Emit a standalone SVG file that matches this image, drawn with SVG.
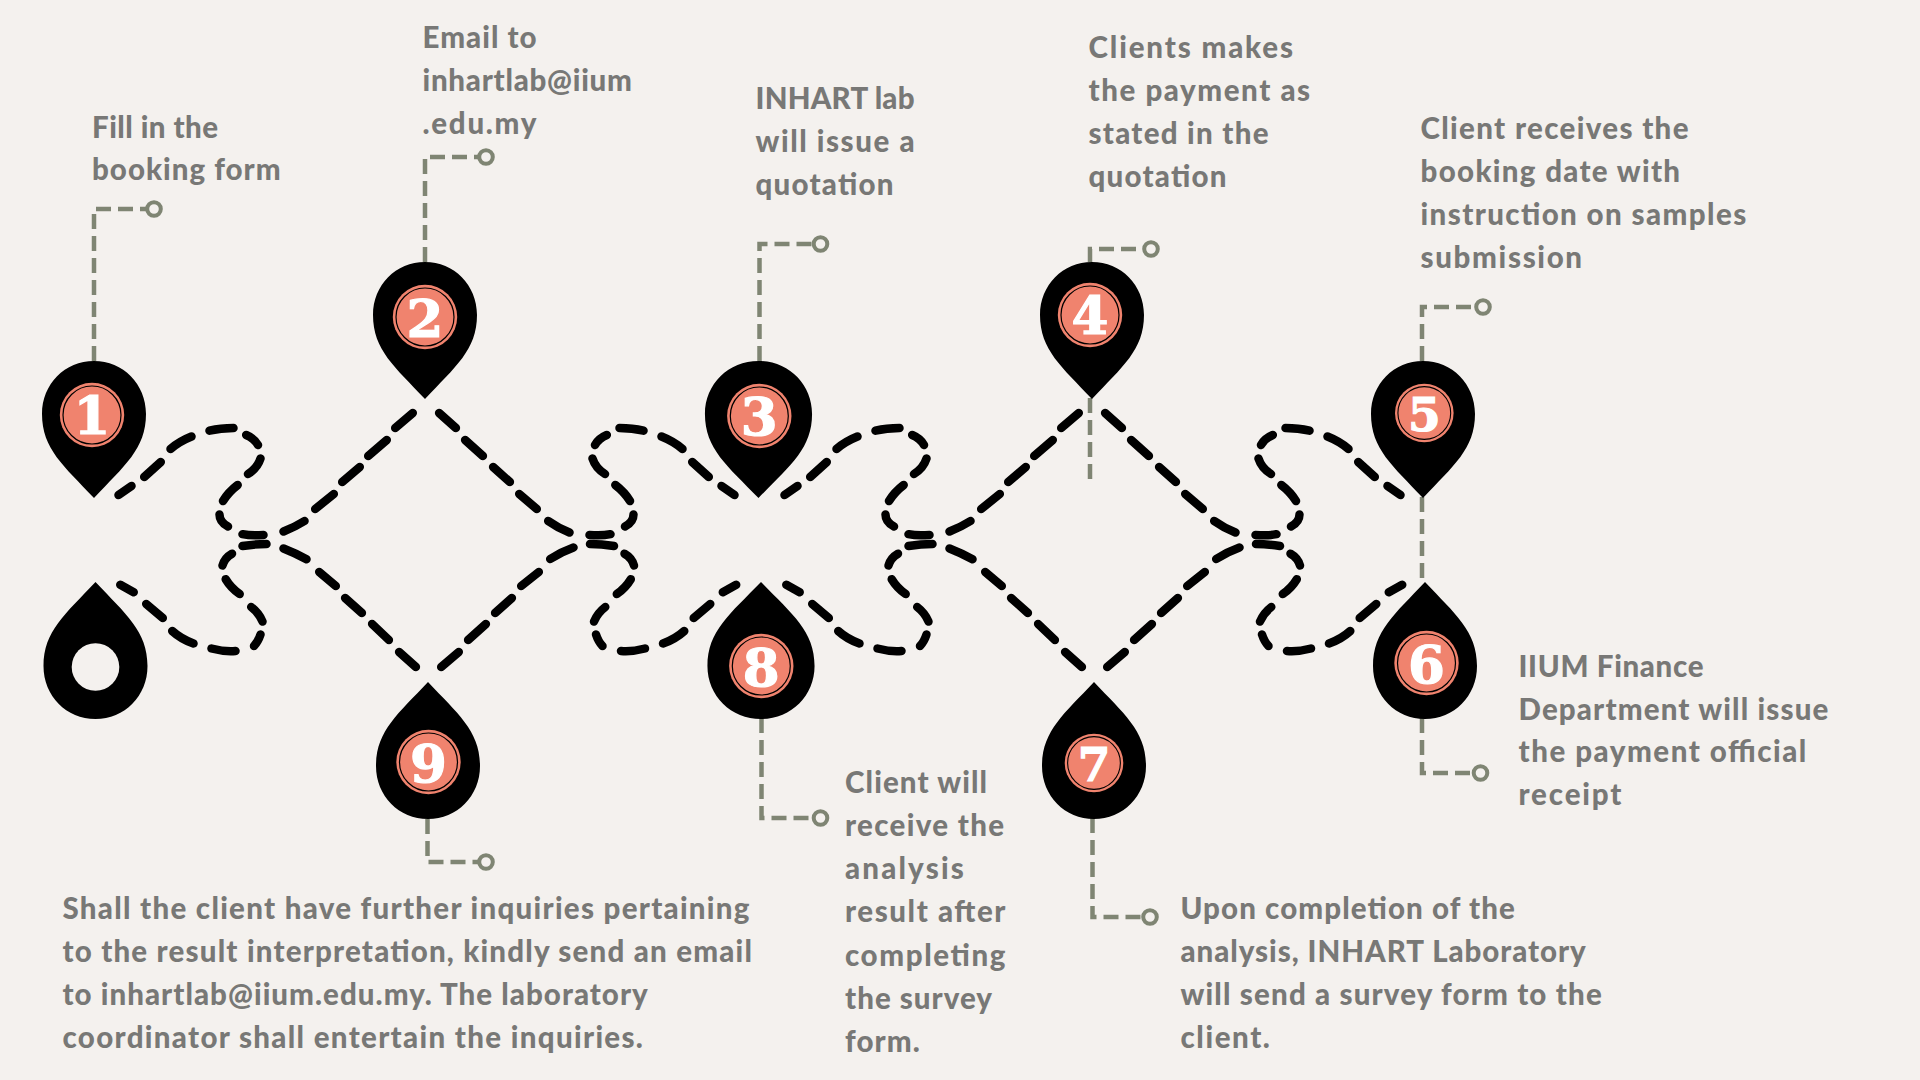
<svg xmlns="http://www.w3.org/2000/svg" width="1920" height="1080" viewBox="0 0 1920 1080">
<style>
.t{font-family:"Lato","Liberation Sans",sans-serif;font-weight:900;font-size:29.5px;fill:#787876}
.n{font-family:"DejaVu Serif","Liberation Serif",serif;font-weight:700;font-size:53px;fill:#fff;stroke:#fff;stroke-width:1.2;text-anchor:middle}
.s{font-size:47px}
.lead{fill:none;stroke:#7f8573;stroke-width:4.5;stroke-dasharray:15 7}
.ring{fill:none;stroke:#7f8573;stroke-width:4}
.dash{fill:none;stroke:#000;stroke-width:8.5;stroke-linecap:round}
.badge{fill:#f0836e}
.inner{fill:none;stroke:#000;stroke-width:1.2}
</style>
<defs>
<path id="pinD" d="M0 137C-30 105-52 88-52 53C-52 23-29 0 0 0C29 0 52 23 52 53C52 88 30 105 0 137Z"/>
<path id="pinU" d="M0 0C30 32 52 49 52 84C52 114 29 137 0 137C-29 137-52 114-52 84C-52 49-30 32 0 0Z"/>
<g id="badge"><circle class="badge" r="32.2"/><circle class="inner" r="29"/></g>
<path id="loopU" class="dash" d="M118.500 495L131.500 486M144.200 477L160.800 462M170.500 449Q179 441.500 191.500 436.500M209.500 430.700Q220.500 428 233.500 428M246.200 435Q254.500 438.500 258 445M260.500 458.500Q257.500 468 248 474M237.700 485Q228.500 492 223 501M219.500 514.500Q219.500 522 228 526.500M242.500 534.200Q251 536 263.500 535"/>
<path id="loopL" class="dash" d="M242.500 546Q255 544 266.500 544M232 553.700Q224.500 558 222.500 565.500M225.700 579.200Q231 588 239.700 594M251.200 607Q259 613 262.500 621.500M260.500 634.500Q258 642 254 646M235.500 651Q225 652 211.500 648.500M193.500 643.500Q181 639 172.200 631M162.800 618L146.200 604M133.700 592.200L120.300 584.800"/>
<g id="route">
<use href="#loopU"/>
<use href="#loopL"/>
<path class="dash" d="M283.500 531.500Q295 527 304.500 521M315.200 509L333.800 494M342.200 482L359.800 467M368.200 456L386.800 440M395.200 428L412.800 413M439.100 413L455.900 428M465.100 440L482.900 456M493.100 467L509.900 482M519.200 494L536.800 509M548.200 521Q558 528 569.500 532.500"/>
<path class="dash" d="M283.500 548.500Q295 553 306.500 559.200M319.200 572L335.800 586M345.100 598L361.900 613M372.100 624L388.900 640M399.100 652L415.900 667M441.200 667L458.800 652M468.100 640L485.900 624M495.100 613L511.900 598M521.200 586L538.800 572M550.200 559Q561 552 573.500 547.500"/>
<use href="#loopU" transform="matrix(-1 0 0 1 853 0)"/>
<use href="#loopL" transform="matrix(-1 0 0 1 856.500 0)"/>
</g>
</defs>
<rect width="1920" height="1080" fill="#f4f1ee"/>
<g id="connectors">
<use href="#route"/>
<use href="#route" x="666"/>
<path class="lead" d="M94 361V209H147"/>
<path class="lead" d="M425 262V157H478"/>
<path class="lead" d="M759.500 361V244H813"/>
<path class="lead" d="M1090 262V249H1143"/>
<path class="lead" d="M1090 398V482"/>
<path class="lead" d="M1422 361V307H1476"/>
<path class="lead" d="M1422 497V582"/>
<path class="lead" d="M1422 718V773H1473"/>
<path class="lead" d="M1092.500 818V917H1143"/>
<path class="lead" d="M761.500 718V818H813"/>
<path class="lead" d="M427.500 819V862H479"/>
<circle class="ring" cx="154" cy="209" r="6.800"/>
<circle class="ring" cx="486" cy="157" r="6.800"/>
<circle class="ring" cx="820.500" cy="244" r="6.800"/>
<circle class="ring" cx="1151" cy="249" r="6.800"/>
<circle class="ring" cx="1483" cy="307" r="6.800"/>
<circle class="ring" cx="1480.500" cy="773" r="6.800"/>
<circle class="ring" cx="1150" cy="917" r="6.800"/>
<circle class="ring" cx="820.500" cy="818" r="6.800"/>
<circle class="ring" cx="486" cy="862" r="6.800"/>
</g>
<g id="node-start"><use href="#pinU" x="95.500" y="582"/><circle cx="95.500" cy="667" r="23.800" fill="#f4f1ee"/></g>
<g id="node-1"><use href="#pinD" x="94" y="361"/><use href="#badge" x="92" y="415"/><text class="n" x="92" y="434">1</text></g>
<g id="node-2"><use href="#pinD" x="425" y="262"/><use href="#badge" x="425" y="317"/><text class="n" x="425" y="336.500">2</text></g>
<g id="node-3"><use href="#pinD" transform="translate(758.500 361) scale(1.03 1)"/><use href="#badge" x="759.300" y="416"/><text class="n" x="759.300" y="434.500">3</text></g>
<g id="node-4"><use href="#pinD" x="1092" y="262"/><use href="#badge" x="1090" y="315"/><text class="n" x="1090" y="333.500">4</text></g>
<g id="node-5"><use href="#pinD" x="1423" y="361"/><use href="#badge" transform="translate(1424.300 413) scale(.91)"/><text class="n s" x="1424.300" y="430.500">5</text></g>
<g id="node-6"><use href="#pinU" x="1425" y="582"/><use href="#badge" x="1426.500" y="663"/><text class="n" x="1426.500" y="682.500">6</text></g>
<g id="node-7"><use href="#pinU" x="1094" y="682"/><use href="#badge" transform="translate(1094 763) scale(.91)"/><text class="n s" x="1094" y="781">7</text></g>
<g id="node-8"><use href="#pinU" transform="translate(761 582) scale(1.03 1)"/><use href="#badge" x="761.300" y="666"/><text class="n" x="761.300" y="686">8</text></g>
<g id="node-9"><use href="#pinU" x="428" y="682"/><use href="#badge" x="428.500" y="762"/><text class="n" x="428.500" y="781.500">9</text></g>
<g id="labels">
<text class="t" x="92" y="138" textLength="126">Fill in the</text>
<text class="t" x="92" y="180" textLength="188.600">booking form</text>
<text class="t" x="422.500" y="47.500" textLength="114">Email to</text>
<text class="t" x="422.500" y="90.500" textLength="209.400">inhartlab@iium</text>
<text class="t" x="422.500" y="134.200" textLength="114">.edu.my</text>
<text class="t" x="755.500" y="108.800" textLength="159">INHART lab</text>
<text class="t" x="755.500" y="151.600" textLength="159">will issue a</text>
<text class="t" x="755.500" y="194.500" textLength="138">quotation</text>
<text class="t" x="1088.500" y="58.300" textLength="204.500">Clients makes</text>
<text class="t" x="1088.500" y="101.400" textLength="221.600">the payment as</text>
<text class="t" x="1088.500" y="144.300" textLength="180">stated in the</text>
<text class="t" x="1088.500" y="187" textLength="138">quotation</text>
<text class="t" x="1420.500" y="139.400" textLength="268">Client receives the</text>
<text class="t" x="1420.500" y="182.200" textLength="259.600">booking date with</text>
<text class="t" x="1420.500" y="225" textLength="325.700">instruction on samples</text>
<text class="t" x="1420.500" y="268" textLength="161.600">submission</text>
<text class="t" x="1518.500" y="676.500" textLength="185">IIUM Finance</text>
<text class="t" x="1518.500" y="719.500" textLength="309.800">Department will issue</text>
<text class="t" x="1518.500" y="762.400" textLength="287.800">the payment official</text>
<text class="t" x="1518.500" y="805.300" textLength="102.900">receipt</text>
<text class="t" x="845" y="793.300" textLength="142">Client will</text>
<text class="t" x="845" y="836" textLength="159">receive the</text>
<text class="t" x="845" y="879" textLength="118.800">analysis</text>
<text class="t" x="845" y="921.800" textLength="160.400">result after</text>
<text class="t" x="845" y="966" textLength="160.400">completing</text>
<text class="t" x="845" y="1008.800" textLength="147">the survey</text>
<text class="t" x="845" y="1051.600" textLength="74.700">form.</text>
<text class="t" x="1180.500" y="919.400" textLength="334.300">Upon completion of the</text>
<text class="t" x="1180.500" y="962.300" textLength="405.300">analysis, INHART Laboratory</text>
<text class="t" x="1180.500" y="1005" textLength="421.200">will send a survey form to the</text>
<text class="t" x="1180.500" y="1048" textLength="89.400">client.</text>
<text class="t" x="62.500" y="919.400" textLength="687">Shall the client have further inquiries pertaining</text>
<text class="t" x="62.500" y="962.300" textLength="689.400">to the result interpretation, kindly send an email</text>
<text class="t" x="62.500" y="1005" textLength="585.300">to inhartlab@iium.edu.my. The laboratory</text>
<text class="t" x="62.500" y="1048" textLength="580.400">coordinator shall entertain the inquiries.</text>
</g>
</svg>
